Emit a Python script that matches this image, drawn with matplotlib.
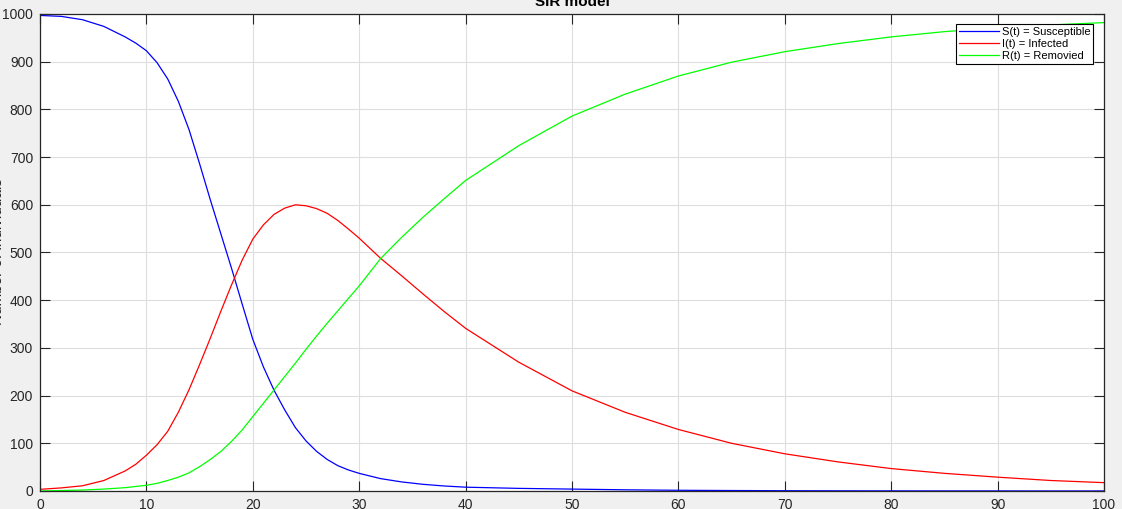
import matplotlib
matplotlib.use("Agg")
import matplotlib.pyplot as plt


# ------------------------------------------------------
# Data
# ------------------------------------------------------

t_days = [
    0, 2, 4, 6, 8, 9, 10, 11, 12, 13, 14, 15, 16, 17, 18, 19,
    20, 21, 22, 23, 24, 25, 26, 27, 28, 29, 30, 32, 34, 36,
    38, 40, 45, 50, 55, 60, 65, 70, 75, 80, 85, 90, 95, 100
]

susceptible = [
    997, 995, 988, 974, 952, 939, 923, 898, 864, 817, 758, 686,
    611, 539, 467, 392, 318, 260, 211, 170, 133, 105, 83, 66,
    53, 44, 37, 26, 19, 14, 10.5, 8, 5.5, 4, 2.5, 1.5, 1, 0.6,
    0.4, 0.3, 0.2, 0.2, 0.1, 0.1
]

infected = [
    3.5, 6.5, 11, 22, 42, 56, 75, 97, 125, 165, 212, 265, 320,
    377, 432, 484, 528, 558, 580, 593, 600, 598, 592, 582, 567,
    549, 530, 488, 451, 413, 376, 341, 270, 210, 165, 129, 100,
    78, 61, 47, 37, 29, 22, 17.5
]

removed = [
    0, 1, 2, 4, 7, 9.5, 12, 16, 22, 29, 38, 51, 66, 83, 104,
    128, 156, 184, 212, 240, 268, 297, 325, 352, 378, 404, 430,
    487, 532, 574, 613, 651, 724, 786, 832, 870, 899, 921, 938,
    952, 963, 971, 977, 982
]

labels = [
    "S(t) = Susceptible",
    "I(t) = Infected",
    "R(t) = Removied"
]


# ------------------------------------------------------
# Figure
# ------------------------------------------------------

W, H = 1122, 509
DARK = (0.15, 0.15, 0.15)

plt.rcParams["font.family"] = ["Liberation Sans", "DejaVu Sans"]

fig = plt.figure(figsize=(W / 100, H / 100), dpi=100)
fig.patch.set_facecolor("#f0f0f0")

ax = fig.add_axes([
    40 / W,
    1 - 491 / H,
    (1104 - 40) / W,
    (491 - 14) / H
])

ax.plot(t_days, susceptible, color="#0000ff", linewidth=0.9, label=labels[0])
ax.plot(t_days, infected, color="#ff0000", linewidth=0.9, label=labels[1])
ax.plot(t_days, removed, color="#00ff00", linewidth=0.9, label=labels[2])

ax.set_xlim(0, 100)
ax.set_ylim(0, 1000)
ax.set_xticks(range(0, 101, 10))
ax.set_yticks(range(0, 1001, 100))

ax.grid(True, color="#dedede", linewidth=0.8)
ax.set_axisbelow(True)

ax.tick_params(
    direction="in",
    length=7,
    width=0.8,
    top=True,
    right=True,
    colors=DARK,
    labelsize=10,
    pad=5
)

for spine in ax.spines.values():
    spine.set_color(DARK)
    spine.set_linewidth(0.9)

legend = ax.legend(
    loc="upper right",
    bbox_to_anchor=(1093 / W, 1 - 24 / H),
    bbox_transform=fig.transFigure,
    borderaxespad=0,
    fontsize=8,
    handlelength=3.6,
    handletextpad=0.25,
    borderpad=0.25,
    labelspacing=0.2,
    fancybox=False,
    framealpha=1,
    edgecolor="black"
)
legend.get_frame().set_linewidth(0.8)

# title and y label sit partly outside the picture, as in the reference
fig.text(
    572 / W,
    1 - 6.5 / H,
    "SIR model",
    ha="center",
    va="baseline",
    fontsize=11,
    fontweight="bold",
    color="black"
)

fig.text(
    4.8 / W,
    1 - 252 / H,
    "Number of individuals",
    rotation=90,
    ha="right",
    va="center",
    fontsize=11,
    color=DARK
)

fig.savefig("out.png", dpi=100, facecolor=fig.get_facecolor())
